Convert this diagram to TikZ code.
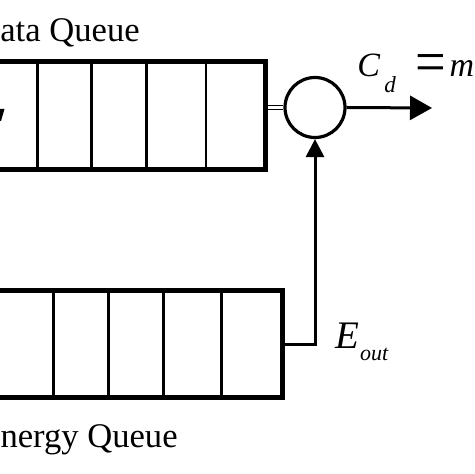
\documentclass[tikz,border=0pt]{standalone}
\usepackage{fontspec}
\setmainfont{Liberation Serif}
\usetikzlibrary{positioning, calc, arrows.meta}

\begin{document}
\begin{tikzpicture}[x=0.5pt, y=-0.5pt]
	\useasboundingbox (0,0) rectangle (474,474);
	\clip (0,0) rectangle (474,474);
	\node (n1) [draw, line width=2.5pt, minimum width=162.75pt, minimum height=54.25pt, inner sep=0] at (102.75,115.75) {};
	\node (n2) [draw, line width=2.5pt, minimum width=171pt, minimum height=53.5pt, inner sep=0] at (111,344) {};
	\node (n3) [draw, circle, line width=1.6pt, minimum size=30pt, inner sep=0] at (315,107.5) {};
	\foreach \x in {37.5,91.7,146.7,206} \draw [line width=1.35pt] (n1.north -| \x,0) -- (n1.south -| \x,0);
	\foreach \x in {53.3,108.3,163.3,221.7} \draw [line width=1.35pt] (n2.north -| \x,0) -- (n2.south -| \x,0);
	\fill (0,109) -- (4.5,109) -- (1,121) -- (0,121) -- cycle;

	\node (n4) [anchor=base west, inner sep=0, font=\fontsize{17.3}{20}\selectfont] at (-25,42) {Data Queue};
	\node (n5) [anchor=base west, inner sep=0, font=\fontsize{17.3}{20}\selectfont] at (-21,447) {Energy Queue};
	\node (n6) [anchor=base west, inner sep=0, font=\fontsize{17}{20}\selectfont] at (357,77) {\textit{C}\hspace{2pt}\raisebox{-8pt}{\fontsize{11.5}{11.5}\selectfont\textit{d}}\hspace{10pt}\raisebox{-3pt}{\scalebox{1.6}[1.8]{=}}\hspace{1.5pt}\textit{m}};
	\node (n7) [anchor=base west, inner sep=0, font=\fontsize{19.5}{22}\selectfont] at (335,348) {\textit{E}\hspace{0.5pt}\raisebox{-6pt}{\fontsize{11}{11}\selectfont\textit{out}}};
	\coordinate (c1) at (432,108);

	\draw [double, line width=0.5pt, double distance=1.2pt] (n1.east |- n3.west) -- (n3.west);
	\draw [-{Triangle[length=11pt, width=12pt]}, line width=1.5pt] (n3.east) -- (c1);
	\draw [-{Triangle[length=9pt, width=9pt]}, line width=1.5pt] (n2.east) -| (n3.south);
\end{tikzpicture}
\end{document}
